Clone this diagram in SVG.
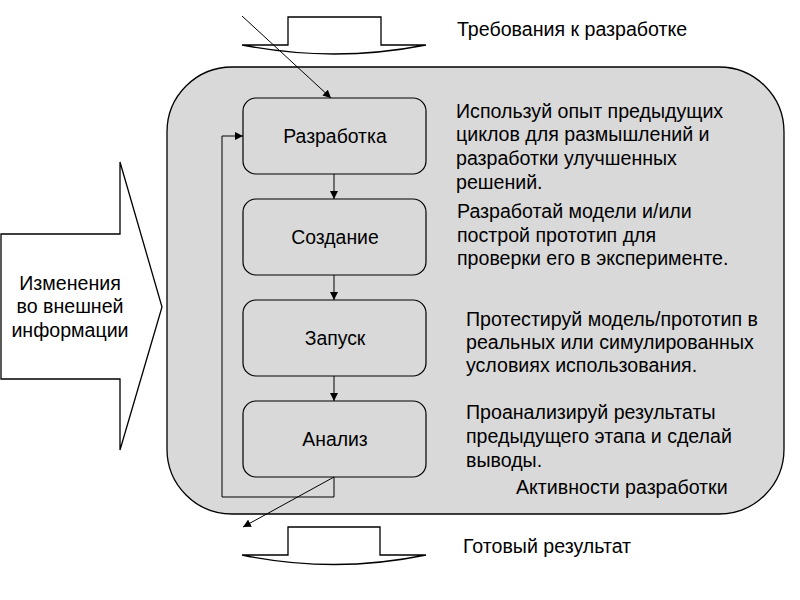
<svg xmlns="http://www.w3.org/2000/svg" width="800" height="600" viewBox="0 0 800 600">
<defs>
<style>
text{font-family:"Liberation Sans",Arial,sans-serif;fill:#000}
.t{font-size:19.6px}
.b{font-size:19.4px;text-anchor:middle}
.box{fill:#d9d9d9;stroke:#000;stroke-width:1.2}
.ln{fill:none;stroke:#000;stroke-width:1}
.sh{fill:#fff;stroke:#000;stroke-width:1.3}
</style>
<marker id="ah" viewBox="0 0 10 10" refX="10" refY="5" markerWidth="8" markerHeight="8" markerUnits="userSpaceOnUse" orient="auto">
<path d="M0,0 L10,5 L0,10 Z" fill="#000"/>
</marker>
</defs>
<rect width="800" height="600" fill="#fff"/>
<g id="activities">
<rect x="167" y="67" width="617" height="447" rx="65" ry="65" fill="#d9d9d9" stroke="#000" stroke-width="1.3"/>
<text class="t" x="516" y="494">Активности разработки</text>
</g>
<g id="input-arrow">
<path class="sh" d="M242,45 L288,45 L288,17 L381,17 L381,45 L426,45 Q334,63 242,45 Z"/>
<text class="t" x="457" y="36">Требования к разработке</text>
</g>
<g id="output-arrow">
<path class="sh" d="M242,555 L288,555 L288,527 L380,527 L380,555 L426,555 Q334,574 242,555 Z"/>
<text class="t" x="463" y="553">Готовый результат</text>
</g>
<g id="external-arrow">
<path class="sh" d="M1,234 L120,234 L120,162 L162,307 L120,450 L120,379 L1,379 Z"/>
<text class="t" text-anchor="middle" x="70" y="290">Изменения</text>
<text class="t" text-anchor="middle" x="70" y="313">во внешней</text>
<text class="t" text-anchor="middle" x="70" y="337">информации</text>
</g>
<g id="design">
<rect class="box" x="243" y="98" width="183" height="76" rx="13"/>
<text class="b" x="335" y="143">Разработка</text>
<text class="t" x="456" y="118">Используй опыт предыдущих</text>
<text class="t" x="456" y="141">циклов для размышлений и</text>
<text class="t" x="456" y="165">разработки улучшенных</text>
<text class="t" x="456" y="189">решений.</text>
</g>
<g id="build">
<rect class="box" x="243" y="199" width="183" height="76" rx="13"/>
<text class="b" x="335" y="244">Создание</text>
<text class="t" x="457" y="218">Разработай модели и/или</text>
<text class="t" x="457" y="242">построй прототип для</text>
<text class="t" x="457" y="265">проверки его в эксперименте.</text>
</g>
<g id="run">
<rect class="box" x="243" y="300" width="183" height="76" rx="13"/>
<text class="b" x="335" y="345">Запуск</text>
<text class="t" x="466" y="326">Протестируй модель/прототип в</text>
<text class="t" x="466" y="349">реальных или симулированных</text>
<text class="t" x="466" y="372">условиях использования.</text>
</g>
<g id="analysis">
<rect class="box" x="243" y="401" width="183" height="76" rx="13"/>
<text class="b" x="335" y="446">Анализ</text>
<text class="t" x="466" y="419">Проанализируй результаты</text>
<text class="t" x="466" y="443">предыдущего этапа и сделай</text>
<text class="t" x="466" y="467">выводы.</text>
</g>
<g id="connectors">
<line class="ln" x1="242" y1="16" x2="331" y2="98" marker-end="url(#ah)"/>
<line class="ln" x1="334" y1="174" x2="334" y2="199" marker-end="url(#ah)"/>
<line class="ln" x1="334" y1="275" x2="334" y2="300" marker-end="url(#ah)"/>
<line class="ln" x1="334" y1="376" x2="334" y2="401" marker-end="url(#ah)"/>
<polyline class="ln" points="334,477 334,497 222,497 222,136 243,136" marker-end="url(#ah)"/>
<line class="ln" x1="334" y1="477" x2="243" y2="527" marker-end="url(#ah)"/>
</g>
</svg>
